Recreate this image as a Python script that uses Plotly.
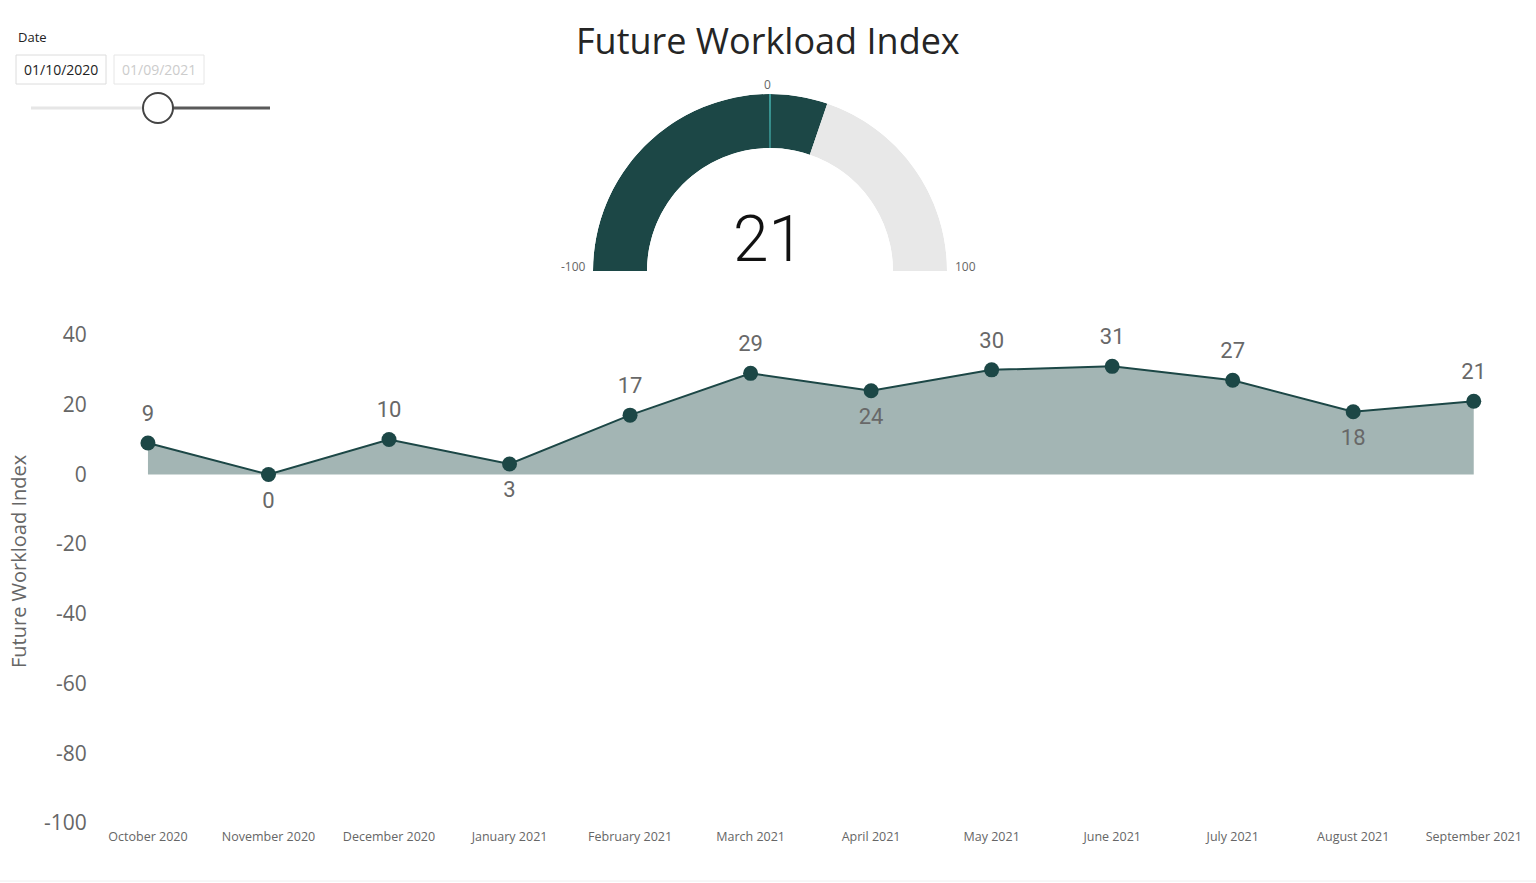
import plotly.graph_objects as go

# ---------------- data ----------------
months = ["October 2020", "November 2020", "December 2020", "January 2021",
          "February 2021", "March 2021", "April 2021", "May 2021",
          "June 2021", "July 2021", "August 2021", "September 2021"]
index_values = [9, 0, 10, 3, 17, 29, 24, 30, 31, 27, 18, 21]
label_positions = ["top center", "bottom center", "top center", "bottom center",
                   "top center", "top center", "bottom center", "top center",
                   "top center", "top center", "bottom center", "top center"]
y_ticks = [40, 20, 0, -20, -40, -60, -80, -100]

gauge_value = 21
gauge_min, gauge_max = -100, 100
gauge_target = 0
gauge_ticks = [-100, 0, 100]

slider_start, slider_end = "01/10/2020", "01/09/2021"

# ---------------- helpers ----------------
W, H = 1536, 883
def px(x):
    return x / W
def py(y):
    return 1 - y / H

def gauge_angle(v):
    # map a gauge value onto the 180 degree arc (0 = left end)
    return (v - gauge_min) / (gauge_max - gauge_min) * 180.0

DARK = "#1c4746"
FILL = "#a3b5b4"
GREY = "#666666"
FONT = "Open Sans"

fig = go.Figure()

fig.add_trace(go.Scatter(
    x=months, y=index_values,
    mode="lines+markers",
    fill="tozeroy", fillcolor=FILL,
    line=dict(color=DARK, width=2),
    marker=dict(size=15, color=DARK),
    cliponaxis=False,
    hoverinfo="x+y",
    showlegend=False,
))

# data labels (carried by an invisible, larger marker so they sit a bit further away)
fig.add_trace(go.Scatter(
    x=months, y=index_values,
    mode="markers+text",
    marker=dict(size=25, color="rgba(0,0,0,0)"),
    text=[str(v) for v in index_values],
    textposition=label_positions,
    textfont=dict(family="Roboto", size=22, color="#686868"),
    cliponaxis=False, hoverinfo="skip", showlegend=False,
))

# gauge drawn as polar bars
val_angle = gauge_angle(gauge_value)
fig.add_trace(go.Barpolar(
    r=[1, 1], base=[0, 0],
    theta=[val_angle / 2, (val_angle + 180) / 2],
    width=[val_angle, 180 - val_angle],
    marker=dict(color=[DARK, "#e8e8e8"], line=dict(width=0)),
    subplot="polar", hoverinfo="skip", showlegend=False,
))
fig.add_trace(go.Barpolar(
    r=[1], base=[0],
    theta=[gauge_angle(gauge_target)], width=[0.6],
    marker=dict(color="#3fa3a0", line=dict(width=0)),
    subplot="polar", hoverinfo="skip", showlegend=False,
))

shapes = [
    # date boxes
    dict(type="rect", xref="paper", yref="paper", x0=px(16), x1=px(106),
         y0=py(84), y1=py(55), line=dict(color="#dcdcdc", width=1), fillcolor="white"),
    dict(type="rect", xref="paper", yref="paper", x0=px(114), x1=px(204),
         y0=py(84), y1=py(55), line=dict(color="#e6e6e6", width=1), fillcolor="white"),
    # slider track
    dict(type="line", xref="paper", yref="paper", x0=px(31), x1=px(150),
         y0=py(108), y1=py(108), line=dict(color="#e6e6e6", width=3)),
    dict(type="line", xref="paper", yref="paper", x0=px(165), x1=px(270),
         y0=py(108), y1=py(108), line=dict(color="#5a5a5a", width=3)),
    # slider handle
    dict(type="circle", xref="paper", yref="paper", x0=px(143), x1=px(173),
         y0=py(123), y1=py(93), line=dict(color="#444444", width=2), fillcolor="white"),
    # bottom rule
    dict(type="line", xref="paper", yref="paper", x0=0, x1=1,
         y0=py(881), y1=py(881), line=dict(color="#eeeeee", width=1)),
]

annotations = [
    dict(text="Future Workload Index", xref="paper", yref="paper",
         x=px(768), y=py(40), showarrow=False, xanchor="center", yanchor="middle",
         font=dict(family=FONT, size=36, color="#252525")),
    dict(text="Future Workload Index", xref="paper", yref="paper",
         x=px(18), y=py(561), showarrow=False, textangle=-90,
         xanchor="center", yanchor="middle",
         font=dict(family=FONT, size=20, color=GREY)),
    dict(text="Date", xref="paper", yref="paper", x=px(16), y=py(37),
         showarrow=False, xanchor="left", yanchor="middle",
         font=dict(family=FONT, size=13, color="#222222")),
    dict(text=slider_start, xref="paper", yref="paper", x=px(61), y=py(70),
         showarrow=False, xanchor="center", yanchor="middle",
         font=dict(family=FONT, size=14, color="#222222")),
    dict(text=slider_end, xref="paper", yref="paper", x=px(159), y=py(70),
         showarrow=False, xanchor="center", yanchor="middle",
         font=dict(family=FONT, size=14, color="#cccccc")),
    # gauge value
    dict(text=str(gauge_value), xref="paper", yref="paper",
         x=px(768), y=py(240), showarrow=False, xanchor="center", yanchor="middle",
         font=dict(family="Roboto", size=64, color="#111111", weight=300)),
    # gauge scale labels
    dict(text=str(gauge_ticks[0]), xref="paper", yref="paper",
         x=px(588), y=py(266), showarrow=False, xanchor="right", yanchor="middle",
         font=dict(family=FONT, size=12, color=GREY)),
    dict(text=str(gauge_ticks[1]), xref="paper", yref="paper",
         x=px(767), y=py(84), showarrow=False, xanchor="center", yanchor="middle",
         font=dict(family=FONT, size=12, color=GREY)),
    dict(text=str(gauge_ticks[2]), xref="paper", yref="paper",
         x=px(953), y=py(266), showarrow=False, xanchor="left", yanchor="middle",
         font=dict(family=FONT, size=12, color=GREY)),
]

fig.update_layout(
    width=W, height=H,
    margin=dict(l=0, r=0, t=0, b=0),
    paper_bgcolor="white", plot_bgcolor="white",
    font=dict(family=FONT, color=GREY),
    shapes=shapes, annotations=annotations,
    xaxis=dict(type="category", range=[-0.5, 11.5],
               domain=[px(87.7), px(1534)],
               showgrid=False, zeroline=False, showline=False, ticks="",
               ticklabelstandoff=4,
               tickfont=dict(family=FONT, size=12.5, color=GREY),
               automargin=False, fixedrange=True),
    yaxis=dict(range=[-100, 40], domain=[py(823), py(335)],
               tickvals=y_ticks, ticktext=[str(v) for v in y_ticks],
               showgrid=False, zeroline=False, showline=False,
               ticks="", tickfont=dict(family=FONT, size=21, color=GREY),
               automargin=False, fixedrange=True),
    polar=dict(
        domain=dict(x=[px(593), px(947)], y=[py(271), py(94)]),
        sector=[0, 180], hole=123 / 177,
        bgcolor="rgba(0,0,0,0)",
        radialaxis=dict(visible=False, range=[0, 1]),
        angularaxis=dict(rotation=180, direction="clockwise",
                         showticklabels=False,
                         showgrid=False, showline=False, ticks=""),
    ),
)

fig.write_html("out.html", config={"displayModeBar": False},
               post_script="document.body.style.margin='0';document.body.style.overflow='hidden';")
